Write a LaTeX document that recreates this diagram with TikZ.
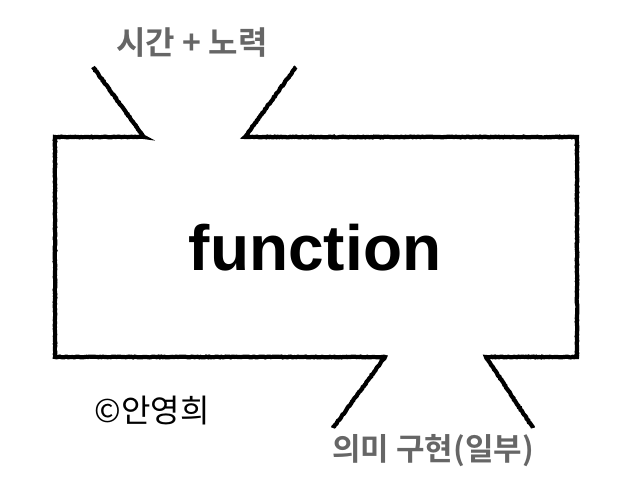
\documentclass[tikz,border=0pt]{standalone}
\usepackage{fontspec}
\setmainfont{Liberation Sans}
\newfontfamily\krfont{Noto Sans CJK KR}
\newfontfamily\krboldfont{Noto Sans CJK KR Bold}
\usepackage{tikz}
\usetikzlibrary{decorations.pathmorphing}

\definecolor{labelgray}{HTML}{666666}

\tikzset{
  sketch/.style={line width=4.2pt,line join=miter,line cap=butt,
    decorate,decoration={random steps,segment length=1.5pt,amplitude=0.4pt}},
  graylabel/.style={text=labelgray,font=\krboldfont\fontsize{32}{32}\selectfont},
}

\begin{document}
\begin{tikzpicture}[x=1pt,y=-1pt]
  \useasboundingbox (0,0) rectangle (624,492);

  % Outline of the box with input and output funnels
  \draw[sketch] (93,67) -- (144,137) -- (55,137) -- (55,357) -- (385,357) -- (333,428);
  \draw[sketch] (296,67) -- (245,137) -- (577,137) -- (577,357) -- (486,357) -- (533,428);

  % Labels
  \node[graylabel] (input) at (192,43) {시간 + 노력};
  \node[font=\bfseries\fontsize{64}{64}\selectfont,anchor=base] (func) at (315,270) {function};
  \node[font=\krfont\fontsize{32}{32}\selectfont] (author) at (152,411) {©안영희};
  \node[graylabel,font=\krboldfont\fontsize{31}{31}\selectfont] (output) at (433,451) {의미 구현(일부)};
\end{tikzpicture}
\end{document}
